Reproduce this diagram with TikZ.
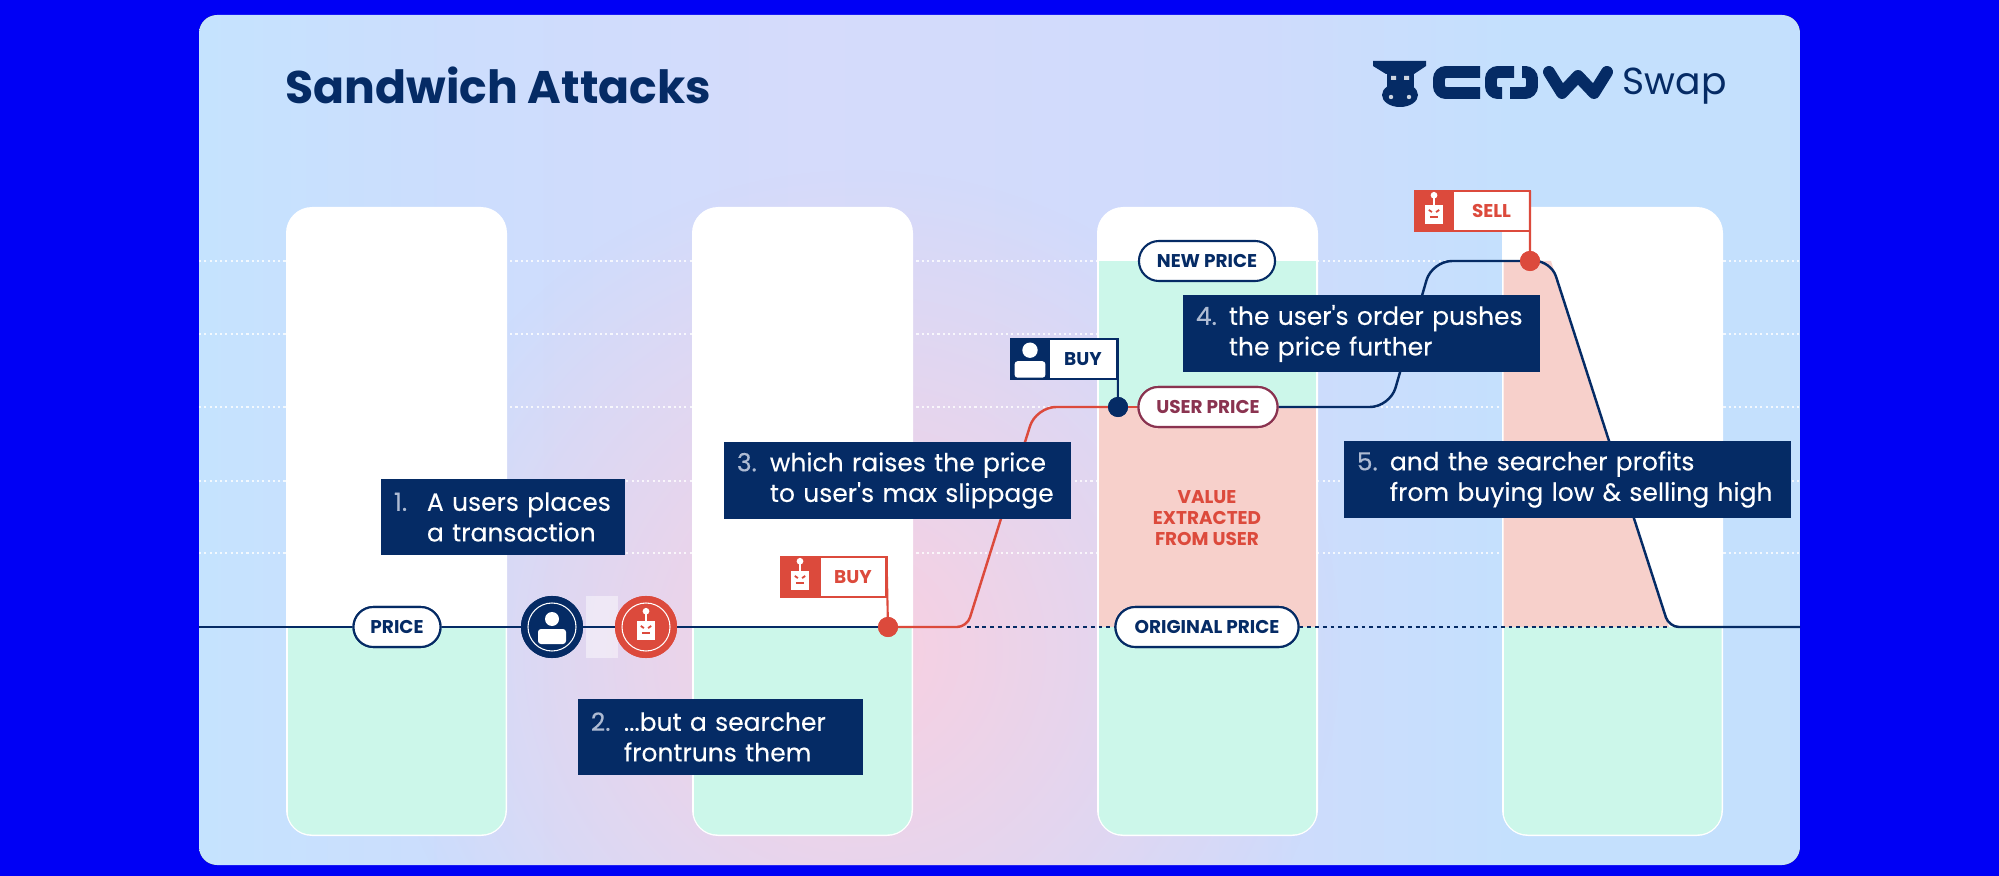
\documentclass[tikz,border=0pt]{standalone}
\usepackage{fontspec}
\setmainfont{Poppins}
\newfontfamily\notefont[FakeBold=0.25]{Poppins}
\usetikzlibrary{fadings}
\definecolor{navy}{HTML}{052B65}
\definecolor{rust}{HTML}{DC4A3C}
\definecolor{mint}{HTML}{CCF7EA}
\definecolor{blush}{HTML}{F7D0CB}
\definecolor{numgrey}{HTML}{AEBBD3}
\definecolor{userrim}{HTML}{8A3350}
\definecolor{pageblue}{HTML}{0000F5}
\definecolor{bgA}{HTML}{C5E3FE}
\definecolor{bgB}{HTML}{CCDDFD}
\definecolor{bgC}{HTML}{D5DBFB}
\definecolor{bgD}{HTML}{CFDBFC}
\definecolor{bgE}{HTML}{C4E0FD}
\definecolor{blob}{HTML}{FBCFDF}
\pgfdeclarehorizontalshading{panelbg}{100bp}{color(0bp)=(bgA); color(25bp)=(bgA);
  color(33bp)=(bgB); color(44bp)=(bgC); color(58bp)=(bgD); color(66bp)=(bgE); color(75bp)=(bgE); color(100bp)=(bgE)}
\tikzfading[name=blobfade, inner color=transparent!5, outer color=transparent!100]
% hanging number, then two text lines
\newcommand{\callnum}[3]{\mbox{\makebox[0.33cm][l]{\textcolor{numgrey}{#1}}#2}\\\mbox{\hspace*{0.33cm}#3}}
\begin{document}
\begin{tikzpicture}[x=0.01cm, y=-0.01cm,
  note/.style={fill=navy, text=white, font=\notefont\fontsize{7.1}{8.7}\selectfont,
               inner xsep=0.13cm, inner ysep=0pt, outer sep=0pt,
               minimum height=0.76cm, align=left},
  pill/.style={draw=navy, fill=white, line width=0.6pt, rounded corners=0.2cm,
               minimum height=0.4cm, inner sep=0pt, text=navy,
               font=\fontsize{5.25}{5.5}\selectfont\bfseries},
  tag/.style={draw=#1, fill=white, text=#1, line width=0.6pt, inner sep=0pt, outer sep=0pt,
              minimum height=0.4cm, font=\fontsize{5.25}{5.5}\selectfont\bfseries},
  tagico/.style={draw=#1, fill=#1, line width=0.6pt, inner sep=0pt, outer sep=0pt,
                 minimum height=0.4cm, minimum width=0.38cm},
  dot/.style={circle, fill=#1, inner sep=0pt, outer sep=0pt, minimum size=0.2cm},
  face/.style={circle, fill=#1, inner sep=0pt, outer sep=0pt, minimum size=0.62cm},
  pline/.style={navy, line width=0.7pt},
  rline/.style={rust, line width=0.7pt},
  pole/.style={line width=0.6pt},
  grid/.style={white, opacity=0.8, line width=0.45pt, dash pattern=on 0.6pt off 0.9pt},
  % icons drawn around the origin, units are pixels
  pics/robot/.style={code={
    \fill[white] (0,-15) circle (3.2);
    \fill[white] (-1,-15) rectangle (1,-6);
    \fill[white] (-9,-6) rectangle (9,12);
    \draw[rust, line width=0.5pt] (-5,-1) -- (-2,1) (5,-1) -- (2,1);
    \draw[rust, line width=0.5pt] (-4,6) -- (4,6);
  }},
  pics/person/.style={code={
    \fill[white] (0,-8) circle (7);
    \fill[white, rounded corners=0.03cm] (-14,2) rectangle (14,17);
  }},
]
\useasboundingbox (0,0) rectangle (1999,876);
\fill[pageblue] (0,0) rectangle (1999,876);
% Panel
\begin{scope}
  \clip[rounded corners=0.18cm] (199,15) rectangle (1800,865);
  \fill[shading=panelbg] (199,15) rectangle (1800,865);
  \fill[blob, path fading=blobfade] (860,650) circle (480);
\end{scope}
% Price levels
\foreach \y in {261,334,407,481,553}
  \draw[grid] (199,\y) -- (1800,\y);
% Columns
\foreach \cx in {286,692,1097,1502} {
  \fill[white, rounded corners=0.26cm] (\cx,207) rectangle +(221,629);
  \begin{scope}
    \clip[rounded corners=0.24cm] (\cx+1.5,208.5) rectangle +(218,626);
    \fill[mint] (\cx+1.5,627) rectangle +(218,209);
  \end{scope}
}
\fill[mint] (1098.5,261) rectangle (1316,407);
\fill[blush] (1098.5,407) rectangle (1316,627);
\fill[blush] (1503.5,261) -- (1551,261) -- (1669,627) -- (1503.5,627) -- cycle;
% Title
\node[text=navy, font=\fontsize{13}{14}\selectfont\bfseries, anchor=west, inner sep=0pt] (title) at (285,85) {Sandwich Attacks};
% Logo
\fill[navy] (1373,61) -- (1426,61) -- (1426,66) -- (1414,74) -- (1386,74) -- (1373,66) -- cycle;
\fill[navy] (1400,95) ellipse (18 and 12);
\fill[navy] (1387,70) rectangle (1414,92);
\fill[white!80!navy] (1391,76) rectangle (1396,80) (1404,76) rectangle (1409,80);
\fill[white!80!navy] (1391,97) circle (2.2) (1409,97) circle (2.2);
\draw[navy, line width=3.4pt, rounded corners=0.07cm] (1480,72) -- (1439,72) -- (1439,93) -- (1480,93);
\draw[navy, line width=3.4pt, rounded corners=0.07cm] (1514,72) -- (1491,72) -- (1491,93) -- (1502,93);
\draw[navy, line width=3.4pt, rounded corners=0.07cm] (1510,93) -- (1532,93) -- (1532,72) -- (1522,72);
\draw[navy, line width=3.4pt, line join=round, line cap=round] (1549,72) -- (1562,93) -- (1578,76) -- (1594,93) -- (1607,72);
\node[text=navy, font=\fontsize{10.7}{12}\selectfont, anchor=west, inner sep=0pt] (swap) at (1622,86) {Swap};
% Faded patch between the two actors
\fill[white, opacity=0.45] (586,596) rectangle (618,658);
% Line ends and bends
\coordinate (lineL) at (199,627);
\coordinate (lineR) at (1800,627);
\coordinate (riseA) at (967,627);
\coordinate (riseB) at (1036,407);
\coordinate (pushA) at (1390,407);
\coordinate (pushB) at (1432,261);
\coordinate (dropA) at (1551,261);
\coordinate (dropB) at (1669,627);
% Pills and dots
\node[pill, minimum width=0.87cm] (pricePill) at (397,627) {PRICE};
\node[pill, minimum width=1.83cm] (origPill) at (1207,627) {ORIGINAL PRICE};
\node[pill, minimum width=1.36cm] (newPill) at (1207,261) {NEW PRICE};
\node[pill, draw=userrim, text=userrim, minimum width=1.39cm] (userPill) at (1208,407) {USER PRICE};
\node[dot=rust] (botDot) at (888,627) {};
\node[dot=navy] (userDot) at (1118,407) {};
\node[dot=rust] (sellDot) at (1530,261) {};
\node[face=navy] (userFace) at (552,627) {};
\node[face=rust] (botFace) at (646,627) {};
% Price path
\draw[pline] (lineL) -- (pricePill) -- (userFace) -- (botFace) -- (botDot);
\draw[rline, rounded corners=0.1cm] (botDot) -- (riseA) [rounded corners=0.2cm] -- (riseB) -- (userDot);
\draw[rline] (userDot) -- (userPill);
\draw[pline, rounded corners=0.2cm] (userPill) -- (pushA) -- (pushB) -- (sellDot);
\draw[pline, rounded corners=0.16cm] (sellDot) -- (dropA) [rounded corners=0.1cm] -- (dropB) -- (lineR);
\draw[pline, dash pattern=on 1.1pt off 1.1pt] (riseA) -- (origPill) -- (dropB);
% Redraw pills and dots over the path
\node[pill, minimum width=0.87cm] at (pricePill) {PRICE};
\node[pill, minimum width=1.83cm] at (origPill) {ORIGINAL PRICE};
\node[pill, draw=userrim, text=userrim, minimum width=1.39cm] at (userPill) {USER PRICE};
\node[dot=rust] at (botDot) {};
\node[dot=navy] at (userDot) {};
\node[dot=rust] at (sellDot) {};
\node[face=navy] at (userFace) {};
\node[face=rust] at (botFace) {};
% Actors
\draw[white, line width=0.3pt] (userFace) circle (24) (botFace) circle (24);
\begin{scope}
  \clip (userFace) circle (24);
  \pic at (userFace) {person};
\end{scope}
\pic[scale=1.05] at (botFace) {robot};
% Flags
\node[tagico=rust] (botTagIco) at (800,577) {};
\node[tag=rust, minimum width=0.67cm] (botTag) at (853,577) {BUY};
\pic[scale=1.05] at (botTagIco) {robot};
\node[tagico=navy] (userTagIco) at (1030,359) {};
\node[tag=navy, minimum width=0.69cm] (userTag) at (1083,359) {BUY};
\pic[scale=1.1] at (userTagIco) {person};
\node[tagico=rust] (sellTagIco) at (1434,211) {};
\node[tag=rust, minimum width=0.77cm] (sellTag) at (1491.5,211) {SELL};
\pic[scale=1.05] at (sellTagIco) {robot};
\draw[pole, rust] (botTag.north east) -- (botDot);
\draw[pole, navy] (userTag.north east) -- (userDot);
\draw[pole, rust] (sellTag.north east) -- (sellDot);
% Extracted value label
\node[text=rust, align=center, font=\fontsize{5.25}{5.9}\selectfont\bfseries, inner sep=0pt] (valueLbl) at (1207,518)
  {VALUE\\EXTRACTED\\FROM USER};
% Steps
\node[note, text width=2.18cm] (stepA) at (503,517) {\callnum{1.}{A users places}{a transaction}};
\node[note, text width=2.59cm] (stepB) at (720.5,737) {\callnum{2.}{...but a searcher}{frontruns them}};
\node[note, text width=3.21cm] (stepC) at (897.5,480.5) {\callnum{3.}{which raises the price}{to user's max slippage}};
\node[note, text width=3.31cm] (stepD) at (1361.5,333.5) {\callnum{4.}{the user's order pushes}{the price further}};
\node[note, text width=4.21cm] (stepE) at (1567.5,479.5) {\callnum{5.}{and the searcher profits}{from buying low \& selling high}};
\end{tikzpicture}
\end{document}
